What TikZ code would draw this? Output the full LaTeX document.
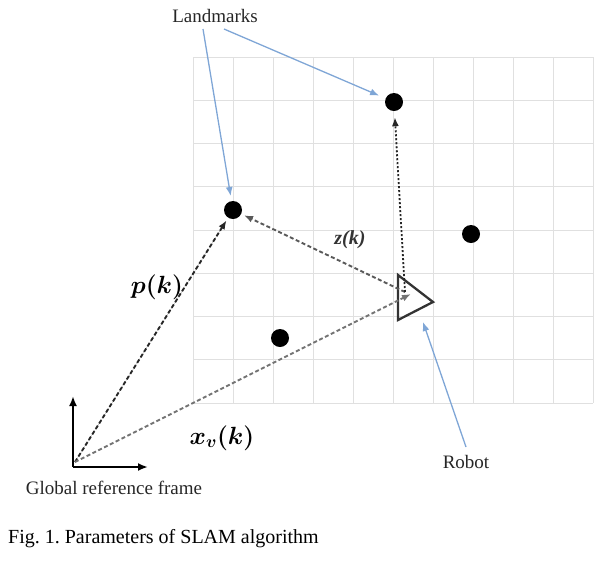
\documentclass[tikz,border=0pt]{standalone}
\usepackage{fontspec}
\usepackage{amsmath}
\usepackage{bm}
\setmainfont{Liberation Serif}
\frenchspacing
\usetikzlibrary{arrows.meta}
\definecolor{gridc}{HTML}{E0E0E0}
\definecolor{bluec}{HTML}{7FA6D6}
\tikzset{
  lmark/.style={circle,fill=black,minimum size=18pt,inner sep=0pt},
  bluearrow/.style={draw=bluec,line width=1.3pt,-{Latex[length=9pt,width=7pt]}},
  dashline/.style={line width=1.9pt,dash pattern=on 4pt off 2.5pt,-{Latex[length=9pt,width=7pt]}},
  lbl/.style={font=\fontsize{19}{21}\selectfont,inner sep=0pt,text=black!85},
  axis/.style={line width=2.3pt,-{Latex[length=10pt,width=8pt]}}
}
\begin{document}
\begin{tikzpicture}[x=1pt,y=-1pt]
\useasboundingbox (0,0) rectangle (602,566);
% grid
\foreach \i in {0,...,10} {
  \draw[gridc,line width=1pt] ({193+40*\i},57) -- ({193+40*\i},403);
}
\foreach \j in {0,...,8} {
  \draw[gridc,line width=1pt] (193,{57+43.25*\j}) -- (593,{57+43.25*\j});
}
% landmarks
\node[lmark] (L1) at (233,210) {};
\node[lmark] (L2) at (394,102) {};
\node[lmark] (L3) at (471,234) {};
\node[lmark] (L4) at (280,338) {};
% robot
\draw[line width=2.3pt,line join=miter,draw=black!80] (398,275) -- (398,320) -- (433,302) -- cycle;
\coordinate (rp) at (411,294);
\coordinate (rtop) at (405,292);
\coordinate (rbot) at (423,322);
% origin and axes
\coordinate (O) at (73,467);
\coordinate (org) at (75,462);
\coordinate (yax) at (73,396);
\coordinate (xax) at (148,467);
\draw[axis] (O) -- (yax);
\draw[axis] (O) -- (xax);
% labels
\node[lbl] (lm) at (215,16) {Landmarks};
\node[lbl] (rob) at (466,462) {Robot};
\node[lbl] (grf) at (114,488) {Global reference frame};
\node[font=\fontsize{20}{22}\selectfont,anchor=west,inner sep=0pt] (cap) at (8,539) {Fig. 1. Parameters of SLAM algorithm};
\node[font=\fontsize{25}{27}\selectfont,inner sep=0pt] (pk) at (157,287) {$\bm{p(k)}$};
\node[font=\fontsize{27}{29}\selectfont,inner sep=0pt] (xv) at (222,438) {$\bm{x_v(k)}$};
\node[font=\fontsize{20}{22}\selectfont\bfseries\itshape,inner sep=0pt,text=black!80] (zk) at (350,240) {z(k)};
\coordinate (lma) at (203,29);
\coordinate (lmb) at (224,29);
\coordinate (roba) at (466,447);
% blue arrows
\draw[bluearrow,shorten >=5pt] (lma) -- (L1);
\draw[bluearrow,shorten >=7pt] (lmb) -- (L2);
\draw[bluearrow] (roba) -- (rbot);
% dashed vectors
\draw[dashline,draw=black!85,fill=black!85,shorten >=3pt] (org) -- (L1);
\draw[dashline,draw=black!55] (org) -- (rp);
\draw[dashline,draw=black!65,shorten >=3pt] (rtop) -- (L1);
\draw[line width=1.8pt,dash pattern=on 2pt off 2pt,draw=black!85,-{Latex[length=9pt,width=7pt]},shorten >=6pt] (rtop) -- (L2);
\end{tikzpicture}
\end{document}
